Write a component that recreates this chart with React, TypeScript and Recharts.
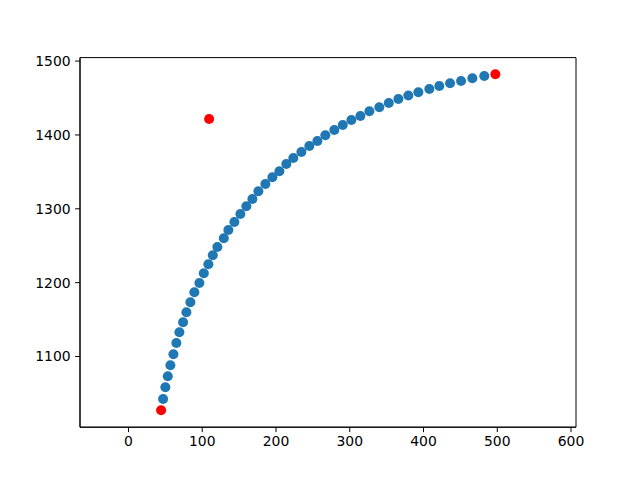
import React from "react";
import { ScatterChart, Scatter, XAxis, YAxis, ReferenceArea } from "recharts";

const blueX = [46.9, 50.0, 53.3, 56.8, 60.9, 64.9, 69.0, 74.0, 78.5, 83.9, 89.3, 96.1, 102.1, 108.3, 114.3, 120.5, 129.2, 135.4, 143.6, 151.7, 159.8, 168.0, 176.1, 185.6, 195.1, 204.6, 214.0, 223.5, 234.4, 245.2, 256.1, 266.9, 279.1, 290.5, 302.2, 314.4, 326.6, 340.1, 352.9, 365.9, 379.4, 393.0, 407.9, 421.4, 436.0, 450.9, 466.2, 482.4];
const blueY = [1042.5, 1058.3, 1073.2, 1088.1, 1103.0, 1118.3, 1132.8, 1146.3, 1159.9, 1173.4, 1186.9, 1199.5, 1212.7, 1224.9, 1237.0, 1248.3, 1260.1, 1271.3, 1282.1, 1293.0, 1303.4, 1313.3, 1323.7, 1333.6, 1342.7, 1350.8, 1360.7, 1368.8, 1377.0, 1385.0, 1391.8, 1399.5, 1406.7, 1413.5, 1420.3, 1425.7, 1432.0, 1437.5, 1443.3, 1448.7, 1453.4, 1457.8, 1462.2, 1466.3, 1470.0, 1473.1, 1476.7, 1479.8];
const redX = [44.2, 109.3, 497.4];
const redY = [1027.2, 1421.6, 1482.1];
const xTicks = [0, 100, 200, 300, 400, 500, 600];
const yTicks = [1100, 1200, 1300, 1400, 1500];
const xDomain = [-65.75, 606.75];
const yDomain = [1004.25, 1504.75];

const blueData = blueX.map((x, i) => ({ x, y: blueY[i] }));
const redData = redX.map((x, i) => ({ x, y: redY[i] }));

const dot = (color: string) => (props: any) => (
  <circle cx={props.cx} cy={props.cy} r={5} fill={color} />
);

const tickStyle = { fill: "#000", fontSize: 13.9, fontFamily: "DejaVu Sans" };

export default function App() {
  return (
    <div style={{ position: "absolute", left: 0, top: 0, background: "#fff" }}>
      <ScatterChart width={640} height={480} margin={{ top: 57.6, right: 64, bottom: 0, left: 0 }}>
        <XAxis
          dataKey="x"
          type="number"
          domain={xDomain}
          ticks={xTicks}
          allowDataOverflow
          height={52.8}
          tickSize={4.9}
          tickMargin={4}
          tick={tickStyle}
          stroke="#000"
          tickLine={{ stroke: "#000" }}
          axisLine={{ stroke: "#000" }}
        />
        <YAxis
          dataKey="y"
          type="number"
          domain={yDomain}
          ticks={yTicks}
          allowDataOverflow
          width={80}
          tickSize={4.9}
          tickMargin={4.5}
          tick={tickStyle}
          stroke="#000"
          tickLine={{ stroke: "#000" }}
          axisLine={{ stroke: "#000" }}
        />
        <ReferenceArea
          x1={xDomain[0]}
          x2={xDomain[1]}
          y1={yDomain[0]}
          y2={yDomain[1]}
          fill="none"
          fillOpacity={0}
          stroke="#000"
          strokeWidth={1}
          ifOverflow="visible"
        />
        <Scatter data={blueData} shape={dot("#1f77b4")} isAnimationActive={false} />
        <Scatter data={redData} shape={dot("#ff0000")} isAnimationActive={false} />
      </ScatterChart>
    </div>
  );
}
